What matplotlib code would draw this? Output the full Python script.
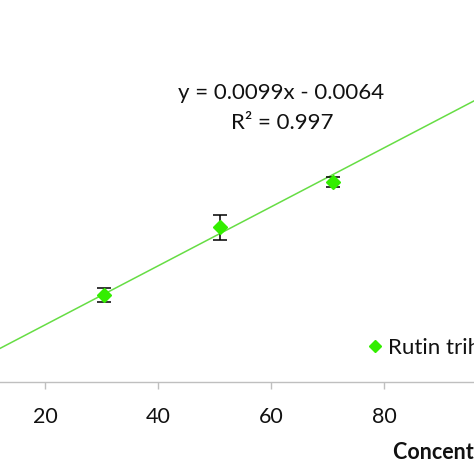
import numpy as np
import matplotlib
matplotlib.use("Agg")
import matplotlib.pyplot as plt

# data (visible part)
conc = [30.5, 51, 71]
absorb = [0.291, 0.519, 0.670]
err = [0.023, 0.042, 0.017]

# linear trendline from the chart's equation
slope, intercept = 0.0099, -0.0064
xticks = [20, 40, 60, 80]

plt.rcParams['font.family'] = ['Lato', 'DejaVu Sans']

W = H = 474
fig = plt.figure(figsize=(4.74, 4.74), dpi=100)

# axes placed so that only part of the plot is seen (the picture is a crop)
px_per_x = 5.65
x0_px = -68          # pixel of x = 0
y0_px = 382          # pixel (from top) of y = 0
px_per_y = 298
xmax, ymax = 100, 1.4
ax = fig.add_axes([x0_px / W, (H - y0_px) / H,
                   xmax * px_per_x / W, ymax * px_per_y / H])
ax.set_xlim(0, xmax)
ax.set_ylim(0, ymax)

xl = np.array([0, xmax])
ax.plot(xl, slope * xl + intercept, color='#66dd44', lw=1.1, zorder=2)

ax.errorbar(conc, absorb, yerr=err, fmt='none', ecolor='black',
            elinewidth=1.1, capsize=4.7, capthick=1.1, zorder=3)
ax.plot(conc, absorb, 'D', color='#33ee00', markersize=7.5, zorder=4,
        label='Rutin trihydrate')

for s in ['top', 'right', 'left']:
    ax.spines[s].set_visible(False)
ax.spines['bottom'].set_color('#bfbfbf')
ax.spines['bottom'].set_linewidth(1.0)
ax.set_yticks([])
ax.set_xticks(xticks)
ax.tick_params(axis='x', colors='#bfbfbf', length=5, width=1.0,
               pad=13, labelsize=15.5, labelcolor='#111111')

fig.text(281 / W, 1 - 93 / H, 'y = 0.0099x - 0.0064', ha='center',
         va='center', fontsize=16, color='#111111')
fig.text(282 / W, 1 - 123 / H, 'R² = 0.997', ha='center',
         va='center', fontsize=16, color='#111111')

fig.text(393 / W, 1 - 452 / H, 'Concentration (µg/mL)', ha='left',
         va='center', fontsize=15.5, fontweight='bold', color='#111111')

ax.legend(loc='center left', bbox_to_anchor=(369 / W, 1 - 348 / H),
          bbox_transform=fig.transFigure, frameon=False, fontsize=16,
          handlelength=0.5, handletextpad=0.35, borderpad=0,
          borderaxespad=0, markerscale=0.8, labelcolor='#111111')

fig.savefig('out.png', dpi=100)
